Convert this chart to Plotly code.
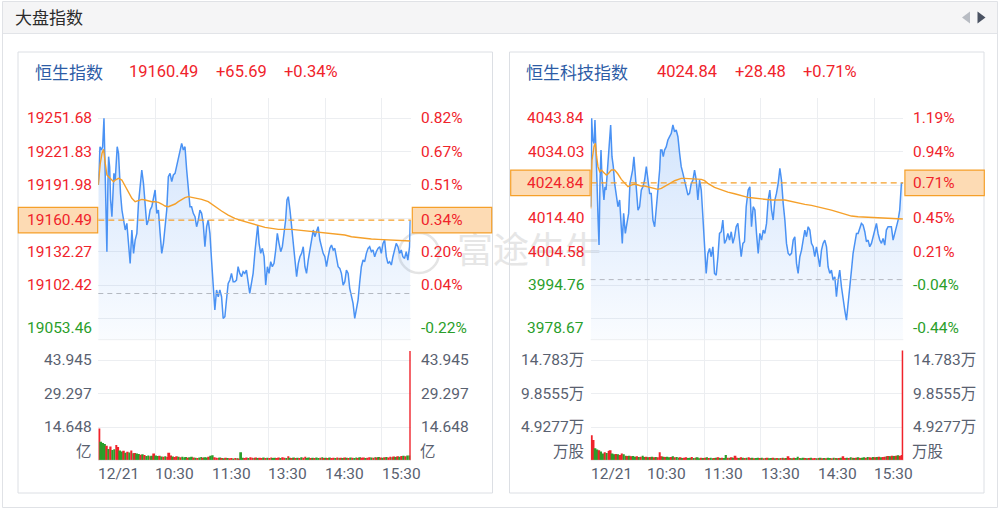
import plotly.graph_objects as go

W, H = 1000, 510

# ------------------------------------------------------------------ data
time_ticks = [0, 60, 120, 180, 240, 300, 330]
time_labels = ["12/21", "10:30", "11:30", "13:30", "14:30", "15:30"]

# ---- 恒生指数 (HSI) ----
hsi_name = "恒生指数"
hsi_last = 19160.49
hsi_chg = "+65.69"
hsi_pct = "+0.34%"
hsi_prev = 19094.80
hsi_line = [(0.0,19191.95),(1.8,19226.28),(3.2,19223.30),(4.6,19226.28),(6.0,19251.68),(6.7,19217.33),(7.4,19187.48),(8.4,19163.60),(9.1,19132.26),(10.2,19193.44),(10.9,19217.33),(12.0,19208.37),(13.0,19178.52),(14.4,19163.60),(15.5,19184.49),(16.5,19202.40),(17.9,19196.43),(19.0,19208.37),(20.0,19226.28),(21.4,19220.31),(22.5,19196.43),(23.5,19184.49),(25.0,19169.56),(26.7,19160.61),(28.5,19151.69),(30.2,19157.62),(32.0,19139.72),(33.7,19121.80),(35.5,19151.69),(37.3,19130.76),(39.0,19142.70),(40.8,19148.67),(42.5,19175.54),(44.3,19190.46),(46.0,19205.39),(47.8,19193.44),(49.6,19169.56),(51.3,19156.13),(53.1,19160.61),(54.8,19169.56),(56.6,19172.55),(58.3,19178.52),(60.1,19187.48),(61.9,19166.58),(63.6,19169.56),(65.4,19148.67),(67.1,19130.76),(68.9,19139.72),(70.6,19154.64),(72.4,19169.56),(74.1,19199.42),(75.9,19202.40),(77.7,19194.94),(79.4,19200.91),(81.2,19202.40),(82.9,19208.37),(84.7,19214.34),(86.4,19220.31),(88.2,19229.27),(90.0,19223.30),(91.7,19226.28),(93.5,19205.39),(95.2,19190.46),(97.0,19172.55),(98.7,19172.55),(100.5,19166.58),(102.3,19163.60),(104.0,19154.64),(105.8,19160.61),(107.5,19169.56),(109.3,19166.58),(111.0,19157.62),(112.8,19136.73),(114.6,19154.64),(116.3,19160.61),(118.1,19148.67),(119.8,19124.79),(121.6,19100.91),(123.3,19080.01),(125.1,19097.92),(126.9,19091.96),(128.6,19097.92),(130.4,19091.96),(132.1,19072.55),(133.9,19074.04),(135.6,19088.97),(137.4,19103.89),(139.2,19106.88),(140.9,19112.85),(142.7,19105.39),(144.4,19105.39),(146.2,19106.88),(147.9,19118.82),(149.7,19112.85),(151.5,19109.87),(153.2,19114.35),(155.0,19112.85),(156.7,19115.84),(158.5,19106.88),(160.2,19094.94),(162.0,19103.89),(163.8,19112.85),(165.9,19133.75),(168.7,19156.13),(170.1,19139.72),(171.8,19130.76),(173.6,19135.24),(175.4,19127.77),(177.1,19102.40),(178.9,19118.82),(180.6,19112.85),(182.4,19123.30),(184.1,19118.82),(185.9,19121.80),(187.7,19133.75),(189.4,19148.67),(191.2,19139.72),(193.0,19132.26),(194.7,19136.73),(196.5,19148.67),(198.2,19160.61),(199.6,19178.52),(201.0,19181.51),(202.8,19169.56),(204.5,19154.64),(206.3,19139.72),(208.0,19127.77),(209.8,19109.87),(211.6,19121.80),(213.3,19127.77),(215.1,19130.76),(216.8,19136.73),(218.6,19118.82),(220.3,19112.85),(222.1,19124.79),(223.9,19133.75),(225.6,19145.69),(227.4,19151.66),(229.1,19145.69),(230.9,19150.16),(232.6,19154.64),(234.4,19142.70),(236.2,19136.73),(237.9,19130.76),(239.7,19127.77),(241.4,19118.82),(243.2,19127.77),(245.0,19135.24),(246.7,19138.22),(248.5,19133.75),(250.2,19135.24),(252.0,19124.79),(253.7,19118.82),(255.5,19117.33),(257.2,19112.85),(259.0,19102.40),(260.8,19105.39),(262.5,19115.84),(264.3,19112.85),(266.0,19099.42),(267.8,19091.96),(269.5,19085.99),(271.3,19072.55),(273.1,19083.00),(274.8,19088.97),(276.6,19105.39),(278.3,19118.82),(280.1,19124.79),(281.8,19123.30),(283.6,19130.76),(285.4,19135.24),(287.1,19136.73),(288.9,19132.26),(290.6,19133.75),(292.4,19127.77),(294.1,19132.26),(295.9,19135.24),(297.7,19136.73),(299.4,19130.76),(301.2,19139.72),(302.9,19142.70),(304.7,19127.77),(306.4,19121.80),(308.2,19123.30),(310.0,19120.31),(311.7,19127.77),(313.5,19135.24),(315.2,19139.72),(317.0,19136.73),(318.7,19130.76),(320.5,19133.75),(322.2,19127.77),(324.0,19126.28),(325.8,19132.26),(327.5,19124.79),(329.3,19136.73),(330.0,19160.49)]
hsi_avg = [(0.0,19191.95),(2.1,19211.36),(3.9,19220.31),(5.6,19223.89),(7.4,19211.36),(9.1,19200.91),(10.9,19199.42),(14.4,19196.43),(16.2,19194.94),(17.9,19196.43),(21.4,19197.92),(24.9,19196.43),(28.5,19190.46),(32.0,19184.49),(35.5,19180.01),(39.0,19177.03),(42.5,19177.92),(46.0,19179.12),(49.5,19178.52),(53.1,19177.62),(56.6,19177.03),(60.1,19177.03),(63.6,19176.43),(67.1,19174.94),(70.6,19173.15),(74.1,19172.55),(77.7,19173.45),(81.2,19174.94),(84.7,19177.03),(88.2,19179.12),(91.7,19180.61),(95.2,19181.51),(98.7,19180.91),(102.3,19180.01),(109.3,19179.12),(116.3,19177.03),(119.8,19174.94),(123.3,19172.55),(130.4,19168.67),(137.4,19165.09),(144.4,19162.10),(151.5,19160.01),(158.5,19158.22),(165.5,19156.13),(169.4,19155.24),(176.4,19154.04),(183.4,19153.15),(190.5,19152.25),(204.5,19152.25),(211.6,19151.65),(218.6,19150.76),(225.6,19150.16),(232.6,19149.57),(239.7,19149.27),(246.7,19148.67),(253.7,19148.07),(260.8,19147.18),(267.8,19145.68),(274.8,19144.79),(281.8,19144.19),(288.9,19143.60),(295.9,19143.30),(302.9,19143.00),(310.0,19142.70),(317.0,19142.40),(324.0,19142.10),(330.0,19141.80)]
hsi_vol = [14.0, 8.2, 7.6, 7.2, 6.4, 5.0, 6.1, 4.6, 4.9, 6.8,
           5.9, 4.3, 3.9, 4.2, 3.4, 3.8, 3.5, 4.3, 3.1, 3.3,
           3.0, 2.8, 2.5, 2.7, 2.4, 1.9, 2.2, 1.8, 2.0, 3.0,
           2.1, 1.9, 2.0, 1.7, 1.6, 1.8, 1.5, 3.4, 2.2, 1.7,
           1.5, 1.8, 1.6, 1.4, 1.6, 1.3, 1.5, 1.2, 1.4, 1.6,
           1.3, 1.2, 1.1, 1.3, 1.5, 1.2, 1.4, 1.3, 1.6, 2.0,
           2.3, 1.4, 1.2, 1.0, 1.3, 1.1, 0.9, 1.2, 1.0, 0.9,
           1.1, 0.8, 1.0, 0.9, 0.8, 3.6, 1.2, 1.0, 1.3, 1.1,
           1.4, 1.2, 1.0, 1.3, 1.1, 1.2, 1.0, 1.3, 1.1, 1.2,
           1.0, 1.3, 1.1, 1.2, 1.0, 1.3, 1.1, 1.4, 1.2, 1.0,
           1.8, 1.2, 1.1, 1.3, 1.0, 1.2, 1.1, 1.4, 1.2, 1.6,
           1.1, 1.3, 1.0, 1.2, 1.1, 1.3, 1.0, 1.2, 1.4, 1.1,
           1.2, 1.0, 1.3, 1.1, 1.2, 1.0, 1.3, 1.1, 1.2, 1.0,
           1.3, 1.2, 1.1, 1.3, 1.2, 1.0, 1.3, 1.1, 1.4, 1.2,
           1.3, 1.1, 1.2, 1.4, 1.3, 1.2, 1.4, 1.3, 1.5, 1.3,
           1.2, 1.4, 1.5, 1.3, 1.6, 1.4, 1.7, 1.5, 1.8, 1.6,
           1.9, 2.0, 1.8, 2.1, 2.2]
hsi_vol_dir = ("rgggrgrggr" "rggrgrgrgr" "ggrgrggrgr" "ggrgrgrrrg" "rrgrgggrgg"
               "rgrggrggrg" "grrrgrgrgr" "rgrgrggrrg" "rrgrgrrgrg" "rrggrrgrrg"
               "rgrgrgrgrr" "ggrgrggrgr" "grgrrgrgrg" "rgrgrggrgr" "rgrrgrgrgr"
               "grgrrgrgrg" "rgrgg")
hsi_auction = 48.0
hsi_price_ticks = [19251.68, 19221.83, 19191.98, 19160.49, 19132.27, 19102.42, 19053.46]
hsi_pct_labels = ["0.82%", "0.67%", "0.51%", "0.34%", "0.20%", "0.04%", "-0.22%"]
hsi_grid = [19251.68, 19221.83, 19191.98, 19162.13, 19132.27, 19102.42, 19072.57]
hsi_vol_ticks = [14.648, 29.297, 43.945]
hsi_vol_labels = ["14.648", "29.297", "43.945"]
hsi_vol_unit = "亿"

# ---- 恒生科技指数 (HSTECH) ----
hst_name = "恒生科技指数"
hst_last = 4024.84
hst_chg = "+28.48"
hst_pct = "+0.71%"
hst_prev = 3996.36
hst_line = [(0.0,4017.82),(1.0,4043.84),(2.1,4037.45),(3.5,4036.47),(4.5,4043.34),(5.6,4036.47),(6.7,4024.69),(7.7,4014.87),(8.8,4006.53),(9.8,4024.69),(10.9,4034.50),(11.9,4026.65),(13.0,4021.74),(14.0,4019.78),(15.1,4023.70),(16.2,4022.72),(17.2,4026.65),(18.3,4031.56),(19.7,4036.47),(21.1,4041.87),(22.5,4032.54),(23.9,4029.60),(25.3,4024.69),(27.1,4020.76),(28.8,4017.82),(30.6,4019.78),(32.4,4009.96),(33.4,4007.02),(34.8,4015.85),(36.6,4009.96),(38.3,4012.91),(40.1,4015.85),(41.5,4024.69),(42.9,4026.65),(44.3,4028.61),(45.7,4032.54),(47.1,4026.65),(48.6,4021.74),(50.0,4016.83),(51.7,4017.82),(53.5,4022.72),(55.2,4023.70),(57.0,4025.67),(58.8,4029.60),(60.5,4024.69),(62.3,4021.74),(64.0,4021.74),(65.8,4013.89),(67.6,4011.92),(69.3,4016.83),(71.1,4023.70),(72.9,4028.61),(73.9,4034.50),(75.3,4034.50),(76.7,4032.54),(78.1,4034.50),(79.9,4035.49),(81.6,4037.45),(83.4,4038.43),(85.2,4039.41),(86.9,4041.87),(88.7,4039.90),(90.4,4040.39),(92.2,4038.43),(94.0,4033.52),(95.7,4029.60),(97.5,4027.63),(99.2,4025.67),(101.0,4022.72),(102.8,4021.25),(104.5,4021.74),(106.3,4024.69),(108.1,4025.67),(109.8,4028.61),(111.6,4025.67),(113.3,4019.78),(115.1,4025.67),(116.9,4022.72),(118.6,4014.87),(120.4,4007.02),(122.1,3998.18),(123.9,4004.07),(125.7,4005.54),(127.4,4003.09),(129.2,4006.03),(130.9,3998.18),(132.7,3997.69),(134.5,4003.09),(136.2,4009.96),(138.0,4010.45),(139.7,4013.89),(141.5,4007.02),(143.3,4008.00),(145.0,4009.96),(146.8,4008.00),(148.6,4010.45),(150.3,4007.02),(152.1,4008.98),(153.8,4011.92),(155.6,4012.91),(157.4,4007.02),(159.1,4003.09),(160.9,4007.02),(162.6,4007.51),(164.4,4017.82),(166.5,4022.72),(168.3,4023.70),(170.0,4011.92),(171.8,4017.82),(173.6,4016.83),(175.3,4009.96),(177.1,4004.07),(178.8,4009.96),(180.6,4008.00),(182.4,4010.94),(184.1,4009.96),(185.9,4012.91),(187.6,4019.78),(189.4,4022.72),(191.2,4016.83),(192.9,4013.89),(194.7,4019.78),(196.4,4021.74),(198.2,4024.69),(200.0,4029.11),(201.7,4025.67),(203.5,4018.80),(205.3,4013.89),(207.0,4007.02),(208.8,4004.07),(210.5,4003.58),(212.3,4004.07),(214.1,4008.00),(215.8,4008.98),(217.6,4001.13),(219.3,3998.18),(221.1,4003.09),(222.9,4005.05),(224.6,4008.00),(226.4,4010.94),(228.1,4008.98),(229.9,4011.92),(231.7,4010.94),(233.4,4007.02),(235.2,4006.03),(236.9,4003.09),(238.7,4006.03),(240.5,4003.09),(242.2,4000.14),(244.0,4005.05),(245.7,4007.02),(247.5,4008.00),(249.3,4006.03),(251.0,4000.14),(252.8,3998.18),(254.5,3999.16),(256.3,3996.22),(258.1,3997.20),(259.8,3991.31),(261.6,3996.22),(263.3,3999.16),(265.1,3994.25),(266.9,3990.33),(268.6,3987.38),(270.4,3984.44),(272.2,3989.35),(273.9,3992.29),(275.7,3999.16),(277.4,4004.07),(279.2,4007.02),(281.0,4009.96),(282.7,4009.96),(284.5,4011.92),(286.2,4012.91),(288.0,4012.42),(289.8,4010.45),(291.5,4007.51),(293.3,4008.00),(295.0,4006.03),(296.8,4007.02),(298.6,4008.98),(300.3,4010.94),(302.1,4012.91),(303.8,4009.96),(305.6,4008.00),(307.4,4007.02),(309.1,4008.49),(310.9,4006.53),(312.6,4010.94),(314.4,4011.92),(316.2,4011.92),(317.9,4011.92),(319.7,4008.00),(321.4,4009.96),(323.2,4011.43),(325.0,4013.89),(326.7,4016.83),(328.5,4024.69),(330.0,4024.84)]
hst_avg = [(0.0,4017.32),(1.4,4031.56),(3.5,4035.49),(4.9,4036.47),(6.3,4032.54),(7.7,4029.60),(9.5,4028.12),(11.2,4028.61),(14.8,4027.63),(16.5,4027.14),(18.3,4027.44),(21.8,4028.61),(25.3,4028.61),(28.8,4027.44),(32.4,4025.87),(35.9,4024.69),(39.4,4023.70),(42.9,4024.20),(46.4,4024.49),(49.9,4024.20),(53.5,4023.90),(57.0,4023.90),(60.5,4023.70),(64.0,4023.51),(67.6,4023.21),(71.1,4022.92),(74.6,4023.21),(78.1,4023.70),(81.6,4024.20),(85.2,4024.88),(88.7,4025.47),(92.2,4025.87),(95.7,4026.16),(99.2,4026.16),(102.8,4026.06),(109.8,4026.06),(116.9,4025.87),(120.4,4025.47),(123.9,4024.69),(130.9,4023.51),(138.0,4022.72),(145.0,4022.13),(152.1,4021.64),(159.1,4021.06),(166.2,4020.56),(170.0,4020.47),(177.1,4020.27),(184.1,4019.97),(191.2,4019.78),(205.3,4019.78),(212.3,4019.29),(219.3,4018.80),(226.4,4018.50),(233.4,4018.21),(240.5,4017.82),(247.5,4017.32),(254.5,4016.83),(261.6,4016.24),(268.6,4015.66),(275.7,4015.07),(282.7,4014.87),(289.8,4014.77),(296.8,4014.67),(303.8,4014.58),(310.9,4014.48),(317.9,4014.38),(325.0,4014.28),(330.0,4014.18)]
hst_vol = [3.7, 3.0, 1.8, 1.6, 1.5, 1.3, 1.0, 1.2, 1.1, 1.4,
           1.5, 1.0, 0.9, 0.95, 0.9, 0.8, 1.0, 0.9, 0.7, 0.65,
           0.7, 0.6, 0.65, 0.55, 0.6, 0.5, 0.55, 0.7, 0.5, 0.55,
           0.45, 0.5, 0.55, 0.45, 0.5, 0.45, 1.2, 0.6, 0.55, 0.5,
           0.55, 0.45, 0.5, 0.6, 0.45, 0.5, 0.4, 0.45, 0.35, 0.4,
           0.45, 0.35, 0.4, 0.5, 0.35, 0.4, 0.45, 0.3, 0.4, 0.35,
           0.4, 0.45, 0.35, 0.4, 0.3, 0.35, 0.4, 0.45, 0.35, 0.4,
           0.35, 0.8, 0.4, 0.35, 0.45, 0.4, 0.7, 0.4, 0.35, 0.45,
           0.4, 0.35, 0.4, 0.45, 0.35, 0.4, 0.3, 0.35, 0.4, 0.35,
           0.4, 0.3, 0.35, 0.4, 0.3, 0.35, 0.4, 0.3, 0.35, 0.3,
           0.35, 0.4, 0.3, 0.35, 0.6, 0.35, 0.3, 0.4, 0.35, 0.55,
           0.35, 0.3, 0.4, 0.35, 0.3, 0.35, 0.4, 0.3, 0.35, 0.3,
           0.35, 0.4, 0.3, 0.35, 0.3, 0.4, 0.35, 0.3, 0.4, 0.35,
           0.3, 0.35, 0.4, 0.6, 0.35, 0.4, 0.35, 0.45, 0.4, 0.35,
           0.4, 0.45, 0.35, 0.4, 0.45, 0.4, 0.5, 0.45, 0.4, 0.5,
           0.45, 0.5, 0.55, 0.45, 0.5, 0.55, 0.6, 0.65, 0.6, 0.7,
           0.65, 0.7, 0.75, 0.7, 0.8]
hst_vol_dir = ("rrggrggrgr" "rggrgrrggr" "grggrgrggr" "grgrgrrrgr" "ggrgrggrgr"
               "rggrgrggrg" "rgrggrgrgr" "ggrgrgrrgr" "grgrrgrggr" "grgrggrgrg"
               "rgrgrrgrgg" "rggrgrgrrg" "rgrgrggrgr" "grgrrgrgrg" "rgrggrgrrg"
               "rgrgrrgrgr" "grgrr")
hst_auction = 16.2
hst_price_ticks = [4043.84, 4034.03, 4024.84, 4014.40, 4004.58, 3994.76, 3978.67]
hst_pct_labels = ["1.19%", "0.94%", "0.71%", "0.45%", "0.21%", "-0.04%", "-0.44%"]
hst_grid = [4043.84, 4034.02, 4024.21, 4014.40, 4004.58, 3994.76, 3984.94]
hst_vol_ticks = [4.9277, 9.8555, 14.783]
hst_vol_labels = ["4.9277万", "9.8555万", "14.783万"]
hst_vol_unit = "万股"

# ------------------------------------------------------------------ style
RED = "#f0232b"
GREEN = "#2a9e2a"
GRAY_TXT = "#596170"
BLUE_LINE = "#4a92f4"
ORANGE = "#f5a02a"
BOX_FILL = "#fddbb4"
GRID = "#eceef1"
TITLE_BLUE = "#2d5ca6"
NUM = "Roboto, 'Noto Sans CJK SC', sans-serif"
CJK = "'Noto Sans CJK SC', 'Noto Sans', sans-serif"


def px(x):
    return x / W


def py(y):
    return 1 - y / H


price_dom = [py(339.7), py(98)]
vol_dom = [py(460.4), py(339.7)]

panels = [
    dict(name=hsi_name, last=hsi_last, chg=hsi_chg, pct=hsi_pct, prev=hsi_prev,
         line=hsi_line, avg=hsi_avg, vol=hsi_vol, vdir=hsi_vol_dir, auction=hsi_auction,
         pticks=hsi_price_ticks, plabels=hsi_pct_labels, grid=hsi_grid,
         vticks=hsi_vol_ticks, vlabels=hsi_vol_labels, vunit=hsi_vol_unit,
         prange=[19053.46, 19269.86], vrange=[0, 52.94],
         xdom=[px(98.3), px(410.7)], box=(18, 492.5),
         title_x=35, num_x=[129, 216, 284], lshift=-6.6, axes=("x", "y", "x2", "y2")),
    dict(name=hst_name, last=hst_last, chg=hst_chg, pct=hst_pct, prev=hst_prev,
         line=hst_line, avg=hst_avg, vol=hst_vol, vdir=hst_vol_dir, auction=hst_auction,
         pticks=hst_price_ticks, plabels=hst_pct_labels, grid=hst_grid,
         vticks=hst_vol_ticks, vlabels=hst_vol_labels, vunit=hst_vol_unit,
         prange=[3978.67, 4049.82], vrange=[0, 17.81],
         xdom=[px(590.7), px(903.3)], box=(509.5, 984),
         title_x=526, num_x=[657, 735, 803], lshift=-7.2, axes=("x3", "y3", "x4", "y4")),
]

fig = go.Figure()
shapes = []
anns = []


def text(t, x, y, xref, yref, color, size, family=NUM, xanchor="left",
         yanchor="middle", xshift=0, yshift=0):
    anns.append(dict(text=t, x=x, y=y, xref=xref, yref=yref, showarrow=False,
                     font=dict(color=color, size=size, family=family),
                     xanchor=xanchor, yanchor=yanchor, xshift=xshift, yshift=yshift,
                     borderpad=0, borderwidth=0))


# page frame / header
shapes.append(dict(type="rect", xref="paper", yref="paper", x0=px(2.5), x1=px(997.5),
                   y0=py(33.5), y1=py(1.5), fillcolor="#f5f5f6", line=dict(width=0), layer="below"))
shapes.append(dict(type="line", xref="paper", yref="paper", x0=px(2.5), x1=px(997.5),
                   y0=py(33.5), y1=py(33.5), line=dict(color="#e2e4e8", width=1)))
shapes.append(dict(type="rect", xref="paper", yref="paper", x0=px(2.5), x1=px(997.5),
                   y0=py(507.5), y1=py(1.5), line=dict(color="#e0e2e6", width=1)))
shapes.append(dict(type="path", xref="paper", yref="paper",
                   path=f"M {px(970)},{py(11.5)} L {px(970)},{py(23.5)} L {px(962)},{py(17.5)} Z",
                   fillcolor="#b8bcc3", line=dict(width=0)))
shapes.append(dict(type="path", xref="paper", yref="paper",
                   path=f"M {px(977.5)},{py(11.5)} L {px(977.5)},{py(23.5)} L {px(985.5)},{py(17.5)} Z",
                   fillcolor="#4a5262", line=dict(width=0)))
text("大盘指数", px(15), py(16.5), "paper", "paper", "#2b2b2b", 17, family=CJK)

# watermark
shapes.append(dict(type="circle", xref="paper", yref="paper", x0=px(399), x1=px(439),
                   y0=py(273), y1=py(233), line=dict(color="#e4e4e4", width=2.5), layer="below"))
shapes.append(dict(type="rect", xref="paper", yref="paper", x0=px(450), x1=px(608),
                   y0=py(273), y1=py(233), line=dict(width=0), fillcolor="rgba(0,0,0,0)",
                   layer="below",
                   label=dict(text="富途牛牛", textposition="middle center",
                              font=dict(size=36, color="#e6e6e6", family=CJK))))

layout_axes = {}
for p in panels:
    xa, ya, xv, yv = p["axes"]
    # panel border
    shapes.append(dict(type="rect", xref="paper", yref="paper", x0=px(p["box"][0]), x1=px(p["box"][1]),
                       y0=py(493), y1=py(52), line=dict(color="#dcdfe4", width=1)))

    lt = [q[0] for q in p["line"]]
    lv = [q[1] for q in p["line"]]
    at = [q[0] for q in p["avg"]]
    av = [q[1] for q in p["avg"]]

    fig.add_trace(go.Scatter(
        x=lt, y=lv, mode="lines", line=dict(color=BLUE_LINE, width=1.5),
        fill="tozeroy",
        fillgradient=dict(type="vertical", start=p["prange"][0], stop=p["pticks"][0],
                          colorscale=[[0, "rgba(74,146,244,0.03)"], [1, "rgba(74,146,244,0.25)"]]),
        xaxis=xa, yaxis=ya, hoverinfo="skip"))
    fig.add_trace(go.Scatter(x=at, y=av, mode="lines", line=dict(color=ORANGE, width=1.4),
                             xaxis=xa, yaxis=ya, hoverinfo="skip"))

    vt = list(range(1, 330, 2)) + [330]
    cols = [RED if c == "r" else GREEN for c in p["vdir"]] + [RED]
    widths = [2] * len(p["vol"]) + [1.0]
    fig.add_trace(go.Bar(x=vt, y=p["vol"] + [p["auction"]], width=widths,
                         marker=dict(color=cols, line=dict(width=0)),
                         xaxis=xv, yaxis=yv, hoverinfo="skip"))

    xcommon = dict(domain=p["xdom"], range=[0, 330.5], tickvals=time_ticks, showticklabels=False,
                   showgrid=True, gridcolor=GRID, gridwidth=1, zeroline=False, ticks="", showline=False)
    layout_axes["xaxis" + xa[1:]] = dict(xcommon, anchor=ya)
    layout_axes["xaxis" + xv[1:]] = dict(xcommon, anchor=yv)
    layout_axes["yaxis" + ya[1:]] = dict(domain=price_dom, range=p["prange"], tickvals=p["grid"],
                                          showticklabels=False, showgrid=True, gridcolor=GRID,
                                          zeroline=False, ticks="", anchor=xa)
    layout_axes["yaxis" + yv[1:]] = dict(domain=vol_dom, range=p["vrange"], tickvals=p["vticks"],
                                          showticklabels=False, showgrid=True, gridcolor=GRID,
                                          zeroline=False, ticks="", anchor=xv)

    # boundary lines between price & volume and below volume
    for yy in (0, 1):
        shapes.append(dict(type="line", xref=xv + " domain", yref=yv + " domain", x0=0, x1=1,
                           y0=yy, y1=yy, line=dict(color=GRID, width=1)))

    # reference lines
    shapes.append(dict(type="line", xref=xa + " domain", yref=ya, x0=0, x1=1, y0=p["prev"], y1=p["prev"],
                       line=dict(color="#b3b8c1", width=1, dash="5px,4px")))
    shapes.append(dict(type="line", xref=xa + " domain", yref=ya, x0=0, x1=1, y0=p["last"], y1=p["last"],
                       line=dict(color=ORANGE, width=1.2, dash="6px,4px")))
    # highlighted boxes
    for anchor, x0, x1 in ((0, -80, -0.6), (1, 1.6, 81)):
        shapes.append(dict(type="rect", xref=xa + " domain", yref=ya, xsizemode="pixel", ysizemode="pixel",
                           xanchor=anchor, yanchor=p["last"], x0=x0, x1=x1, y0=-12.8, y1=12.8,
                           fillcolor=BOX_FILL, line=dict(color=ORANGE, width=1.2)))

    # title row
    text(p["name"], px(p["title_x"]), py(72), "paper", "paper", TITLE_BLUE, 17, family=CJK)
    for t, xx in zip([f"{p['last']:.2f}", p["chg"], p["pct"]], p["num_x"]):
        text(t, px(xx), py(72), "paper", "paper", RED, 16.5)

    # price labels
    n = len(p["pticks"])
    for i, (v, pl) in enumerate(zip(p["pticks"], p["plabels"])):
        col = RED if v > p["prev"] else GREEN
        ys = 12 if i == n - 1 else 0
        text(f"{v:.2f}", 0, v, xa + " domain", ya, col, 15.5, xanchor="right", xshift=p["lshift"], yshift=ys)
        text(pl, 1, v, xa + " domain", ya, col, 15.5, xanchor="left", xshift=10, yshift=ys)

    # volume labels
    for v, vl in zip(p["vticks"], p["vlabels"]):
        text(vl, 0, v, xv + " domain", yv, GRAY_TXT, 15.5, xanchor="right", xshift=p["lshift"])
        text(vl, 1, v, xv + " domain", yv, GRAY_TXT, 15.5, xanchor="left", xshift=10)
    text(p["vunit"], 0, 0, xv + " domain", yv + " domain", GRAY_TXT, 15.5, xanchor="right",
         xshift=p["lshift"], yshift=8.7)
    text(p["vunit"], 1, 0, xv + " domain", yv + " domain", GRAY_TXT, 15.5, xanchor="left",
         xshift=9, yshift=8.7)

    # time labels
    for tv, tl in zip(time_ticks, time_labels):
        text(tl, tv, 0, xv, yv + " domain", GRAY_TXT, 15.5, xanchor="left", yshift=-13.6)

fig.update_layout(
    width=W, height=H, autosize=False,
    margin=dict(l=0, r=0, t=0, b=0, pad=0),
    paper_bgcolor="white", plot_bgcolor="rgba(0,0,0,0)",
    template="none", showlegend=False, barmode="overlay", hovermode=False,
    shapes=shapes, annotations=anns,
    **layout_axes,
)

fig.write_html("out.html")
